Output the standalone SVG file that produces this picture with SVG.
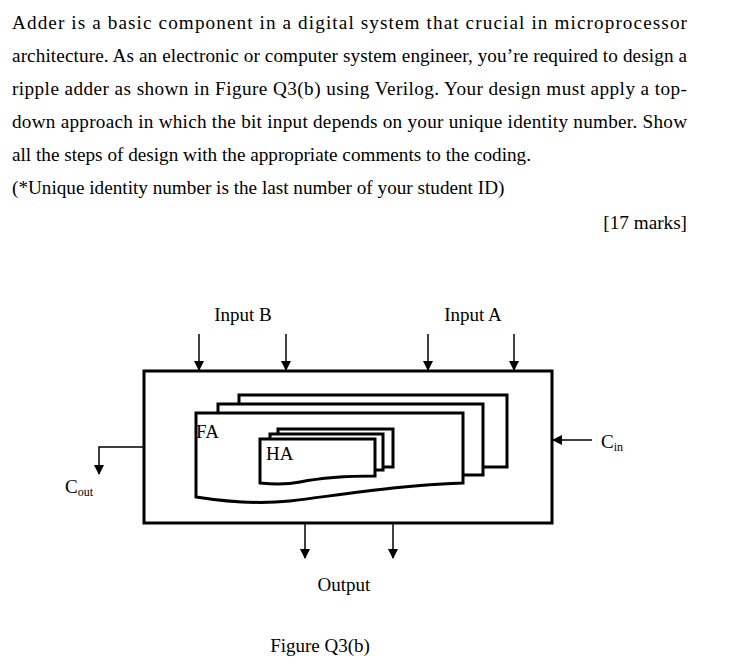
<svg xmlns="http://www.w3.org/2000/svg" width="733" height="662" viewBox="0 0 733 662">
<style>
text{font-family:"Liberation Serif","Times New Roman",serif;fill:#000}
.p{font-size:19.2px}
.l{font-size:19px}
.b{fill:#fff;stroke:#000;stroke-width:3}
.w{stroke:#000;stroke-width:1.5;fill:none}
</style>
<defs><marker id="ah" markerWidth="10" markerHeight="10" refX="9" refY="5" orient="auto" markerUnits="userSpaceOnUse"><path d="M0,0 L10,5 L0,10 z" fill="#000"/></marker></defs>
<rect width="733" height="662" fill="#fff"/>
<g id="text">
<text class="p" x="12" y="29" textLength="675" lengthAdjust="spacing">Adder is a basic component in a digital system that crucial in microprocessor</text>
<text class="p" x="12" y="62" textLength="675" lengthAdjust="spacing">architecture. As an electronic or computer system engineer, you’re required to design a</text>
<text class="p" x="12" y="95" textLength="675" lengthAdjust="spacing">ripple adder as shown in Figure Q3(b) using Verilog. Your design must apply a top-</text>
<text class="p" x="12" y="128" textLength="675" lengthAdjust="spacing">down approach in which the bit input depends on your unique identity number. Show</text>
<text class="p" x="12" y="161">all the steps of design with the appropriate comments to the coding.</text>
<text class="p" x="12" y="194">(*Unique identity number is the last number of your student ID)</text>
<text class="p" x="687" y="229" text-anchor="end">[17 marks]</text>
</g>
<g id="adder">
<rect class="b" x="144" y="371" width="408" height="152"/>
</g>
<g id="fa">
<rect class="b" x="239" y="395" width="268" height="72"/>
<rect class="b" x="218" y="404" width="265" height="71"/>
<path class="b" d="M196,413 H463 V483 C400,485 340,495 290,501 C250,505 215,500 196,497 Z"/>
<text x="196" y="438" style="font-size:19px">FA</text>
</g>
<g id="ha">
<rect class="b" x="278" y="429" width="115" height="38"/>
<rect class="b" x="270" y="434" width="113" height="36"/>
<path class="b" d="M260,439 H375 V476 C340,476 320,478 300,482 C285,485 270,484 260,483 Z"/>
<text x="266" y="460" style="font-size:19px">HA</text>
</g>
<g id="connectors">
<line class="w" x1="199" y1="334" x2="199" y2="370" marker-end="url(#ah)"/>
<line class="w" x1="286" y1="334" x2="286" y2="370" marker-end="url(#ah)"/>
<line class="w" x1="428" y1="334" x2="428" y2="370" marker-end="url(#ah)"/>
<line class="w" x1="514" y1="334" x2="514" y2="370" marker-end="url(#ah)"/>
<line class="w" x1="592" y1="440" x2="553" y2="440" marker-end="url(#ah)"/>
<polyline class="w" points="144,447 99,447 99,474" marker-end="url(#ah)"/>
<line class="w" x1="305" y1="523" x2="305" y2="558" marker-end="url(#ah)"/>
<line class="w" x1="393" y1="523" x2="393" y2="558" marker-end="url(#ah)"/>
</g>
<g id="labels">
<text class="l" x="243" y="321" text-anchor="middle">Input B</text>
<text class="l" x="473" y="321" text-anchor="middle">Input A</text>
<text class="l" x="601" y="448">C<tspan font-size="12" dy="3">in</tspan></text>
<text class="l" x="65" y="493">C<tspan font-size="12" dy="3">out</tspan></text>
<text class="l" x="344" y="591" text-anchor="middle">Output</text>
<text class="l" x="320" y="652" text-anchor="middle">Figure Q3(b)</text>
</g>
</svg>
